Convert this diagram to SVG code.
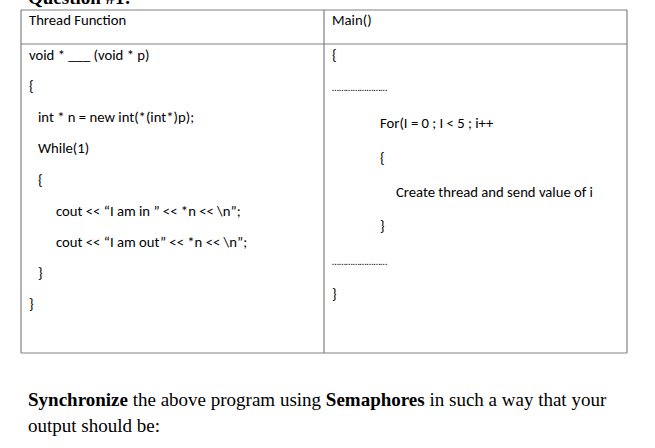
<svg xmlns="http://www.w3.org/2000/svg" width="655" height="448" viewBox="0 0 655 448">
<style>
.c{font-family:Carlito,Calibri,"Liberation Sans",sans-serif;font-size:14.7px;fill:#000}
.s{font-family:"Liberation Serif",serif;font-size:19px;fill:#000}
.b{font-weight:bold}
line{stroke:#808080;stroke-width:1.2}
</style>
<rect width="655" height="448" fill="#fff"/>
<text class="s b" x="28" y="4">Question #1:</text>
<g id="table">
<line x1="21" y1="10" x2="627" y2="10"/>
<line x1="21" y1="44" x2="627" y2="44"/>
<line x1="21" y1="353" x2="627" y2="353"/>
<line x1="21" y1="10" x2="21" y2="353"/>
<line x1="324" y1="10" x2="324" y2="353"/>
<line x1="627" y1="10" x2="627" y2="353"/>
</g>
<g id="thread">
<text class="c" x="29" y="25">Thread Function</text>
<text class="c" x="29" y="60">void *  ___  (void * p)</text>
<text class="c" x="29" y="91">{</text>
<text class="c" x="38" y="122">int * n = new int(*(int*)p);</text>
<text class="c" x="38" y="153">While(1)</text>
<text class="c" x="38" y="185">{</text>
<text class="c" x="56" y="216">cout &lt;&lt; “I am in ” &lt;&lt; *n &lt;&lt; \n”;</text>
<text class="c" x="56" y="247">cout &lt;&lt; “I am out” &lt;&lt; *n &lt;&lt; \n”;</text>
<text class="c" x="38" y="278">}</text>
<text class="c" x="29" y="309">}</text>
</g>
<g id="main">
<text class="c" x="332" y="25">Main()</text>
<text class="c" x="332" y="60">{</text>
<text class="c" x="332" y="91" style="font-size:10px">……………………</text>
<text class="c" x="380" y="128">For(I = 0 ; I &lt; 5 ; i++</text>
<text class="c" x="380" y="163">{</text>
<text class="c" x="396" y="197">Create thread and send value of i</text>
<text class="c" x="380" y="231">}</text>
<text class="c" x="332" y="265" style="font-size:10px">……………………</text>
<text class="c" x="332" y="299">}</text>
</g>
<text class="s" x="28" y="406"><tspan class="b">Synchronize</tspan> the above program using <tspan class="b">Semaphores</tspan> in such a way that your</text>
<text class="s" x="28" y="432">output should be:</text>
</svg>
